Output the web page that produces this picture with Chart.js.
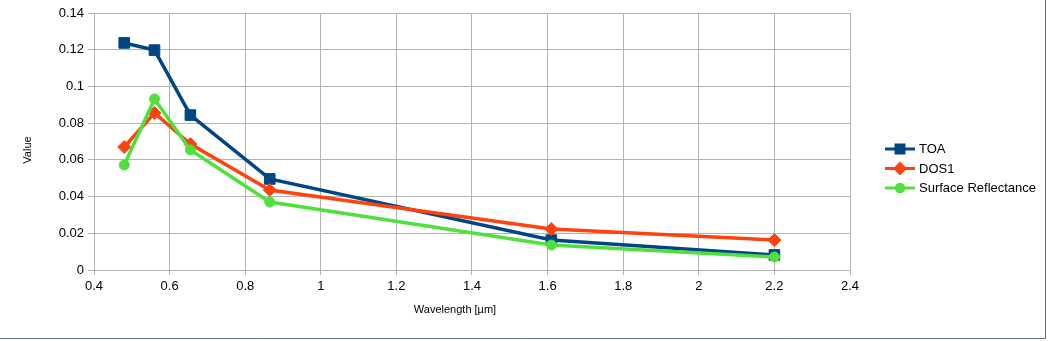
<!DOCTYPE html>
<html>
<head>
<meta charset="utf-8">
<script src="https://cdn.jsdelivr.net/npm/chart.js@4/dist/chart.umd.min.js"></script>
<style>
  html, body { margin: 0; padding: 0; background: #fff; }
  #wrap { width: 1048px; height: 341px; }
</style>
</head>
<body>
<div id="wrap"><canvas id="chart" width="1048" height="341"></canvas></div>
<script>
// wavelengths (µm) and values
const wavelengths = [0.48, 0.56, 0.655, 0.865, 1.61, 2.2];
const toaValues = [0.1237, 0.1198, 0.0844, 0.0496, 0.0163, 0.0082];
const dos1Values = [0.0670, 0.0855, 0.0686, 0.0436, 0.0223, 0.0163];
const surfaceValues = [0.0572, 0.0932, 0.0654, 0.0370, 0.0136, 0.0071];

const seriesNames = ['TOA', 'DOS1', 'Surface Reflectance'];
const seriesColors = ['#004586', '#ff420e', '#4fe03c'];
const seriesMarkers = ['rect', 'rectRot', 'circle'];
const markerRadius = [7.5, 6.5, 5];

const xTitle = 'Wavelength [µm]';
const yTitle = 'Value';

const font = "'Liberation Sans', Arial, sans-serif";

function toPoints(values) {
  return wavelengths.map((w, i) => ({ x: w, y: values[i] }));
}

// Axis titles and legend drawn like the office-suite chart
const extras = {
  id: 'extras',
  afterDraw(chart) {
    const ctx = chart.ctx;
    ctx.save();

    // axis titles
    ctx.fillStyle = '#000';
    ctx.font = '11px ' + font;
    ctx.textAlign = 'center';
    ctx.textBaseline = 'middle';
    ctx.fillText(xTitle, 455, 310);
    ctx.save();
    ctx.translate(28, 150);
    ctx.rotate(-Math.PI / 2);
    ctx.fillText(yTitle, 0, 0);
    ctx.restore();

    // legend: line with the marker in the middle
    ctx.textAlign = 'left';
    chart.data.datasets.forEach((ds, i) => {
      const y = 149 + i * 19.5;
      ctx.strokeStyle = ds.borderColor;
      ctx.lineWidth = 3;
      ctx.beginPath();
      ctx.moveTo(885, y);
      ctx.lineTo(915, y);
      ctx.stroke();
      Chart.helpers.drawPoint(ctx, {
        pointStyle: ds.pointStyle,
        radius: markerRadius[i] * 0.75,
        borderWidth: 1
      }, 900, y);
      ctx.fillStyle = ds.borderColor;
      ctx.fill();
      ctx.fillStyle = '#000';
      ctx.font = '13px ' + font;
      ctx.textBaseline = 'middle';
      ctx.fillText(ds.label, 919, y + 0.5);
    });

    // outer frame at right and bottom edge
    ctx.strokeStyle = '#61717f';
    ctx.lineWidth = 1;
    ctx.beginPath();
    ctx.moveTo(1045.5, 0);
    ctx.lineTo(1045.5, 338.5);
    ctx.lineTo(0, 338.5);
    ctx.stroke();
    ctx.restore();
  }
};

const datasets = [toaValues, dos1Values, surfaceValues].map((vals, i) => ({
  label: seriesNames[i],
  data: toPoints(vals),
  borderColor: seriesColors[i],
  backgroundColor: seriesColors[i],
  pointStyle: seriesMarkers[i],
  pointRadius: markerRadius[i],
  pointBorderWidth: 1,
  borderWidth: 3.5,
  tension: 0,
  order: 3 - i
}));

const ctx = document.getElementById('chart').getContext('2d');
new Chart(ctx, {
  type: 'scatter',
  data: { datasets: datasets },
  options: {
    responsive: false,
    animation: false,
    showLine: true,
    layout: { padding: { left: 18, right: 198, top: 13, bottom: 20 } },
    plugins: {
      legend: { display: false },
      tooltip: { enabled: false }
    },
    scales: {
      x: {
        type: 'linear',
        min: 0.4,
        max: 2.4,
        ticks: {
          stepSize: 0.2,
          color: '#000',
          font: { family: font, size: 13 },
          padding: 4,
          maxRotation: 0,
          callback: v => Math.round(v * 10) / 10
        },
        grid: { color: '#b3b3b3', tickLength: 5 },
        border: { color: '#b3b3b3' },
        afterFit(scale) { scale.height = 51; }
      },
      y: {
        min: 0,
        max: 0.14,
        ticks: {
          stepSize: 0.02,
          color: '#000',
          font: { family: font, size: 13 },
          padding: 4,
          callback: v => Math.round(v * 100) / 100
        },
        grid: { color: '#b3b3b3', tickLength: 6 },
        border: { color: '#b3b3b3' },
        afterFit(scale) { scale.width = 76; }
      }
    }
  },
  plugins: [extras]
});
</script>
</body>
</html>
